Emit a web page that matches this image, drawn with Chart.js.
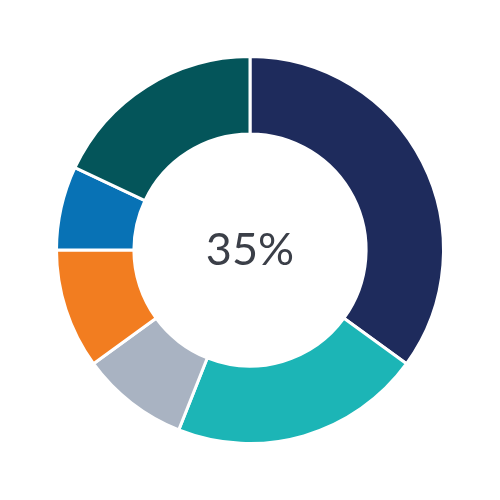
<!DOCTYPE html>
<html>
<head>
<meta charset="utf-8">
<script src="https://cdn.jsdelivr.net/npm/chart.js@4"></script>
<style>
html,body{margin:0;padding:0;background:#fff;}
#wrap{width:500px;height:500px;position:relative;}
</style>
</head>
<body>
<div id="wrap"><canvas id="c" width="500" height="500"></canvas></div>
<script>
const categories = ["Segment A", "Segment B", "Segment C", "Segment D", "Segment E", "Segment F"];
const values = [35, 21, 9, 10, 7, 18];
const colors = ["#1e2b5c", "#1cb5b6", "#a9b3c2", "#f27d20", "#0872b5", "#04555a"];
const centerLabel = "35%";

const centerText = {
  id: 'centerText',
  afterDraw(chart) {
    const meta = chart.getDatasetMeta(0);
    if (!meta.data.length) return;
    const arc = meta.data[0];
    const ctx = chart.ctx;
    ctx.save();
    ctx.font = '400 45px Lato, "Open Sans", sans-serif';
    ctx.fillStyle = '#3b3f48';
    ctx.textAlign = 'center';
    ctx.textBaseline = 'middle';
    ctx.fillText(centerLabel, arc.x, arc.y);
    ctx.restore();
  }
};

new Chart(document.getElementById('c'), {
  type: 'doughnut',
  data: {
    labels: categories,
    datasets: [{
      data: values,
      backgroundColor: colors,
      borderColor: '#ffffff',
      borderWidth: 3
    }]
  },
  options: {
    responsive: false,
    animation: false,
    cutout: '60%',
    layout: { padding: 55 },
    plugins: {
      legend: { display: false },
      tooltip: { enabled: false }
    }
  },
  plugins: [centerText]
});
</script>
</body>
</html>
